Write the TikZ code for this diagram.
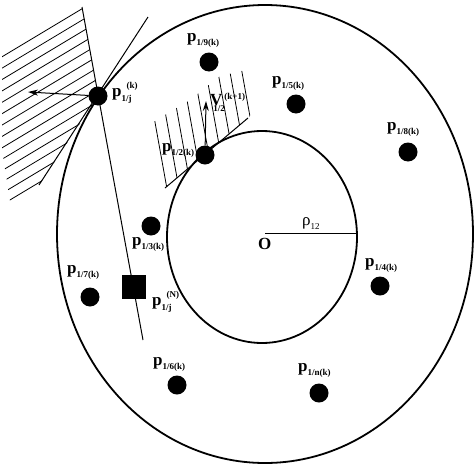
\documentclass[tikz,border=0pt]{standalone}
\usepackage{fontspec}
\setmainfont{Liberation Serif}
\usetikzlibrary{arrows.meta}
\newcommand{\sfn}{\fontsize{9}{9}\selectfont\bfseries}
\newcommand{\pl}[1]{p\raisebox{-4pt}{\sfn #1}}
\newcommand{\pls}[2]{p\rlap{\hspace{5pt}\raisebox{8pt}{\sfn #2}}\raisebox{-5.5pt}{\sfn #1}}

\begin{document}
\begin{tikzpicture}[x=1pt,y=-1pt,
  dot/.style={circle,fill,inner sep=0pt,minimum size=19pt},
  lbl/.style={anchor=base west,inner sep=0pt,font=\fontsize{17}{17}\selectfont\bfseries},
  arr/.style={-{Stealth[length=10pt,width=6pt]},line width=1pt},
  hatch/.style={line width=0.8pt}]
\useasboundingbox (0,0) rectangle (474,466);

% the two rings
\draw[line width=1.8pt] (265,234) ellipse [x radius=208pt, y radius=229pt];
\draw[line width=1.8pt] (262,237) ellipse [x radius=95pt, y radius=106pt];

% hatched half planes
\begin{scope}
\clip (2,0) -- (80.7,0) -- (98.3,96) -- (28.4,201) -- (10,201) -- (2,150) -- cycle;
\foreach \k in {0,...,13} \draw[hatch] (0,58+11.38*\k) -- ++(140,-84);
\end{scope}
\begin{scope}
\clip (150,124) -- (190,100) -- (220,76) -- (246,70) -- (251,115.5) -- (163,189.7) -- cycle;
\foreach \k in {0,...,8} \draw[hatch] (143.8+12*\k,60) -- ++(25.2,140);
\end{scope}

% lines
\coordinate (ta) at (148,17);
\coordinate (tb) at (39,185);
\coordinate (vt) at (82,7);
\coordinate (vb) at (143,340);
\coordinate (sa) at (165,188);
\coordinate (sb) at (248,118);
\draw[line width=1pt] (ta) -- (tb);
\draw[line width=1pt] (vt) -- (vb);
\draw[line width=1pt] (sa) -- (sb);

% points
\node[dot] (p1j) at (98,96) {};
\node[dot] (p9) at (209,62) {};
\node[dot] (p2) at (205,155) {};
\node[dot] (p5) at (296,104) {};
\node[dot] (p8) at (408,152) {};
\node[dot] (p3) at (151,226) {};
\node[dot] (p7) at (90,297) {};
\node[dot] (p6) at (177,385) {};
\node[dot] (p4) at (380,286) {};
\node[dot] (pn) at (319,393) {};
\node[fill,inner sep=0pt,minimum size=24pt] (pN) at (134,287) {};

% arrows and radius
\coordinate (a1) at (28,92);
\coordinate (a2) at (206,101);
\draw[arr] (p1j) -- (a1);
\draw[arr] (p2) -- (a2);
\coordinate (ctr) at (265,233);
\coordinate (rim) at (357,233);
\draw[line width=1pt] (ctr) -- (rim);

% labels
\node[lbl] (l9) at (187,41) {\pl{1/9(k)}};
\node[lbl] (l1j) at (112,96) {\pls{1/j}{(k)}};
\node[lbl] (l2) at (162,151) {\pl{1/2(k)}};
\node[lbl] (lv) at (210,105) {V\rlap{\hspace{2pt}\raisebox{6pt}{\sfn (k+1)}}\hspace{-9pt}\raisebox{-6pt}{\sfn 1/2}};
\node[lbl] (l5) at (272,84) {\pl{1/5(k)}};
\node[lbl] (l8) at (387,130) {\pl{1/8(k)}};
\node[lbl] (l3) at (132,245) {\pl{1/3(k)}};
\node[lbl] (l7) at (67,273) {\pl{1/7(k)}};
\node[lbl] (lN) at (152,305) {\pls{1/j}{(N)}};
\node[lbl] (l6) at (153,365) {\pl{1/6(k)}};
\node[lbl] (l4) at (365,266) {\pl{1/4(k)}};
\node[lbl] (ln) at (298,371) {\pl{1/n(k)}};
\node[lbl] (lO) at (258,249) {O};
\node[anchor=base west,inner sep=0pt,font=\fontsize{17}{17}\selectfont] (lr) at (302,225) {ρ\raisebox{-4pt}{\fontsize{9}{9}\selectfont 12}};
\end{tikzpicture}
\end{document}
